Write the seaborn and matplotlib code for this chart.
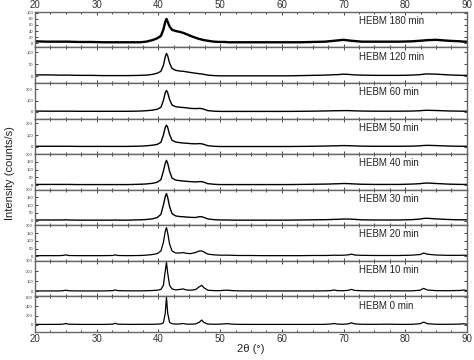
import matplotlib
matplotlib.use("Agg")
import matplotlib.pyplot as plt
from matplotlib.ticker import MultipleLocator
import seaborn as sns
import pandas as pd

# 2-theta sampling positions (degrees) shared by all patterns
two_theta = [20, 22, 24, 24.6, 25, 25.4, 27, 29, 31, 32.6,
             33, 33.4, 35, 37, 38, 39, 39.8, 40.4, 40.8, 41.1,
             41.3, 41.5, 41.8, 42.2, 42.8, 43.5, 44, 44.5, 45.2, 46,
             46.6, 47, 47.4, 48, 49, 50, 50.8, 51.3, 52, 53,
             55, 57, 59, 61, 63, 65, 67, 68, 68.5, 69,
             70, 70.8, 71.3, 71.8, 73, 75, 77, 79, 81, 82.4,
             83, 83.6, 85, 87, 89, 89.5, 90]

labels = ['HEBM 180 min', 'HEBM 120 min', 'HEBM 60 min', 'HEBM 50 min', 'HEBM 40 min',
          'HEBM 30 min', 'HEBM 20 min', 'HEBM 10 min', 'HEBM 0 min']

i_180 = [6, 5, 5, 5, 5, 5, 4, 4, 3, 3,
         3, 3, 3, 3, 5, 10, 16, 24, 45, 70,
         80, 70, 55, 44, 40, 37, 34, 30, 24, 18,
         14, 12, 10, 8, 5, 4, 4, 3, 3, 3,
         3, 3, 3, 3, 3, 4, 5, 7, 8, 9,
         11, 9, 8, 7, 5, 5, 5, 5, 6, 8,
         9, 10, 11, 8, 6, 5, 5]
i_120 = [5, 5, 4, 4, 4, 4, 3, 3, 2, 2,
         2, 2, 2, 3, 4, 7, 12, 20, 45, 80,
         95, 85, 55, 32, 24, 21, 20, 18, 15, 12,
         10, 9, 7, 4, 2, 1, 1, 1, 1, 1,
         1, 1, 1, 1, 2, 3, 4, 5, 6, 6,
         8, 7, 6, 5, 4, 3, 3, 3, 4, 6,
         8, 9, 8, 5, 3, 3, 3]
i_60 = [6, 5, 5, 5, 5, 5, 4, 4, 4, 4,
        4, 4, 4, 6, 9, 14, 22, 40, 100, 170,
        190, 170, 110, 60, 45, 40, 38, 35, 30, 28,
        30, 28, 22, 10, 5, 3, 3, 3, 3, 3,
        3, 3, 3, 3, 4, 5, 7, 8, 9, 9,
        10, 10, 9, 8, 6, 5, 5, 5, 6, 9,
        12, 13, 11, 7, 5, 5, 5]
i_50 = [4, 4, 4, 4, 4, 4, 3, 3, 3, 3,
        3, 3, 3, 5, 8, 13, 20, 38, 100, 165,
        185, 165, 105, 55, 40, 35, 32, 30, 27, 25,
        27, 25, 20, 9, 4, 2, 2, 2, 2, 2,
        2, 2, 2, 2, 3, 4, 6, 7, 8, 8,
        10, 9, 8, 7, 5, 4, 4, 4, 5, 8,
        11, 12, 10, 6, 4, 4, 4]
i_40 = [4, 4, 4, 4, 4, 4, 3, 3, 3, 3,
        3, 3, 3, 5, 7, 11, 18, 35, 90, 140,
        160, 140, 90, 45, 32, 28, 26, 24, 22, 20,
        22, 22, 18, 9, 5, 3, 3, 3, 3, 3,
        3, 3, 3, 3, 4, 5, 6, 7, 8, 8,
        10, 9, 8, 7, 5, 4, 4, 4, 6, 9,
        12, 13, 10, 6, 4, 4, 4]
i_30 = [4, 4, 4, 4, 5, 4, 3, 3, 3, 3,
        4, 3, 3, 5, 7, 11, 20, 40, 100, 155,
        175, 150, 92, 45, 30, 26, 25, 23, 21, 20,
        25, 25, 20, 11, 6, 4, 4, 4, 3, 3,
        3, 3, 3, 3, 4, 5, 6, 7, 8, 8,
        10, 10, 9, 8, 5, 4, 4, 4, 6, 10,
        14, 15, 11, 7, 5, 5, 5]
i_20 = [5, 5, 5, 7, 10, 6, 5, 5, 5, 6,
        10, 6, 5, 6, 8, 12, 18, 35, 90, 160,
        185, 150, 80, 35, 22, 22, 25, 20, 18, 25,
        35, 35, 28, 15, 10, 8, 8, 8, 7, 6,
        6, 5, 5, 5, 5, 6, 6, 7, 8, 7,
        8, 10, 15, 9, 7, 6, 6, 6, 8, 12,
        22, 14, 9, 7, 7, 8, 7]
i_10 = [5, 5, 5, 8, 12, 7, 5, 5, 5, 8,
        15, 8, 6, 6, 7, 9, 12, 20, 60, 200,
        285, 180, 60, 25, 15, 20, 25, 15, 12, 18,
        45, 60, 35, 12, 8, 8, 12, 12, 8, 6,
        5, 5, 5, 5, 5, 5, 6, 9, 14, 8,
        7, 12, 20, 10, 7, 6, 7, 6, 6, 12,
        30, 14, 8, 7, 10, 14, 8]
i_0 = [5, 5, 6, 12, 25, 10, 5, 5, 5, 10,
       30, 10, 6, 6, 7, 8, 10, 15, 40, 250,
       600, 250, 50, 20, 12, 15, 25, 12, 10, 15,
       50, 100, 45, 12, 8, 10, 18, 20, 10, 6,
       5, 5, 5, 5, 5, 5, 6, 15, 25, 12,
       8, 18, 40, 15, 8, 6, 10, 6, 6, 20,
       55, 20, 8, 7, 12, 20, 8]

intensities = [i_180, i_120, i_60, i_50, i_40, i_30, i_20, i_10, i_0]
y_limits = [(-14, 103), (-29, 120), (-61, 257), (-63, 241), (-30, 200),
            (-30, 200), (-28, 200), (-48, 300), (-160, 620)]
y_ticks = [[0, 20, 40, 60, 80, 100], [0, 50, 100], [0, 100, 200], [0, 100, 200],
           [0, 50, 100, 150, 200], [0, 50, 100, 150, 200], [0, 50, 100, 150, 200],
           [0, 100, 200, 300], [0, 200, 400, 600]]
line_widths = [1.7, 1.0, 1.0, 1.0, 1.0, 1.0, 0.9, 0.9, 0.9]

sns.set_style("ticks")
plt.rcParams['font.family'] = ['Liberation Sans', 'DejaVu Sans']

fig, axes = plt.subplots(9, 1, sharex=True, figsize=(4.74, 3.6), dpi=100)
fig.subplots_adjust(left=0.074, right=0.985, top=0.967, bottom=0.078, hspace=0)

for ax, lab, y, ylim, yt, lw in zip(axes, labels, intensities, y_limits, y_ticks, line_widths):
    df = pd.DataFrame({'two_theta': two_theta, 'intensity': y})
    sns.lineplot(data=df, x='two_theta', y='intensity', ax=ax, color='black', lw=lw)
    ax.set_xlim(20, 90)
    ax.set_ylim(*ylim)
    ax.set_yticks(yt)
    ax.set_xlabel('')
    ax.set_ylabel('')
    ax.xaxis.set_major_locator(MultipleLocator(10))
    ax.xaxis.set_minor_locator(MultipleLocator(2.5))
    ax.tick_params(which='both', direction='in', top=True, right=True,
                   labelbottom=False, labeltop=False, labelsize=3, pad=1.5, width=0.6,
                   labelcolor='#333333')
    ax.tick_params(which='major', length=2.5)
    ax.tick_params(which='minor', length=1.5)
    for s in ax.spines.values():
        s.set_color('#666666')
        s.set_linewidth(1.0)
    ax.text(0.75, 0.74, lab, transform=ax.transAxes, ha='left', va='center',
            fontsize=7, color='#222222')

axes[0].tick_params(axis='x', labeltop=True, labelsize=7, pad=1.5)
axes[-1].tick_params(axis='x', labelbottom=True, labelsize=7, pad=1.5)

axes[-1].set_xlabel('2θ (°)', fontsize=8, labelpad=0, color='#222222')
fig.text(0.022, 0.52, 'Intensity (counts/s)', rotation=90, ha='center', va='center',
         fontsize=8, color='#222222')

plt.savefig('out.png', dpi=100)
